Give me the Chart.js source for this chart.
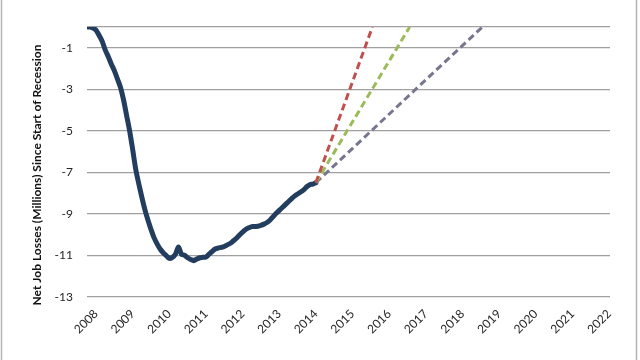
<!DOCTYPE html>
<html>
<head>
<meta charset="utf-8">
<script src="https://cdn.jsdelivr.net/npm/chart.js@4/dist/chart.umd.min.js"></script>
<style>
  html, body { margin: 0; padding: 0; background: #ffffff; }
  #wrap { width: 640px; height: 360px; position: relative; }
</style>
</head>
<body>
<div id="wrap"><canvas id="c" width="640" height="360"></canvas></div>
<script>
// ---- Data (months counted from Jan 2008 = 0) ----
const months = [-3,-2,-1,0,1,2,3,4,5,6,7,8,9,10,11,12,13,14,15,16,17,18,19,20,21,22,23,24,25,26,27,28,29,30,31,32,33,34,35,36,37,38,39,40,41,42,43,44,45,46,47,48,49,50,51,52,53,54,55,56,57,58,59,60,61,62,63,64,65,66,67,68,69,70,71,72];
const jobLosses = [0,0,-0.05,-0.15,-0.4,-0.68,-1.1,-1.42,-1.78,-2.1,-2.5,-2.9,-3.5,-4.25,-5.0,-5.9,-6.85,-7.55,-8.2,-8.8,-9.3,-9.75,-10.15,-10.45,-10.7,-10.88,-11.02,-11.15,-11.1,-10.95,-10.6,-10.95,-11.0,-11.12,-11.2,-11.26,-11.18,-11.12,-11.1,-11.08,-10.95,-10.82,-10.7,-10.65,-10.62,-10.58,-10.5,-10.42,-10.3,-10.18,-10.02,-9.88,-9.76,-9.68,-9.62,-9.62,-9.6,-9.56,-9.5,-9.42,-9.3,-9.14,-8.98,-8.84,-8.7,-8.56,-8.42,-8.28,-8.15,-8.05,-7.95,-7.85,-7.7,-7.6,-7.57,-7.5];

// projections: start month / value, end month / value
const projStartMonth = 72;
const projStartValue = -7.5;
const projEndMonths = [90.5, 102.7, 126.5];
const projEndValue = 0;
const projColors = ['#c0504d', '#9bbb59', '#76768f'];

const yearTicks = [2008,2009,2010,2011,2012,2013,2014,2015,2016,2017,2018,2019,2020,2021,2022];
const yTicks = [0,-1,-3,-5,-7,-9,-11,-13];
const yTitle = 'Net Job Losses (Millions) Since Start of Recession';

const toYear = m => 2008 + m / 12;

const mainData = months.map((m, i) => ({ x: toYear(m), y: jobLosses[i] }));
const projSets = projEndMonths.map((em, i) => ({
  data: [{ x: toYear(projStartMonth), y: projStartValue }, { x: toYear(em), y: projEndValue }],
  borderColor: projColors[i],
  borderWidth: 3,
  borderDash: [7, 4],
  pointRadius: 0,
  fill: false,
  tension: 0
}));

const FONT = 'Lato, "Open Sans", "Liberation Sans", sans-serif';

const framePlugin = {
  id: 'frame',
  afterDraw(chart) {
    const ctx = chart.ctx;
    ctx.save();
    ctx.strokeStyle = '#b4b4b4';
    ctx.lineWidth = 1.5;
    ctx.beginPath();
    ctx.moveTo(1.5, 0); ctx.lineTo(1.5, 360);
    ctx.moveTo(636.5, 0); ctx.lineTo(636.5, 360);
    ctx.stroke();
    // y-axis title
    ctx.translate(37, 175);
    ctx.rotate(-Math.PI / 2);
    ctx.fillStyle = '#111111';
    ctx.font = 'bold 12px ' + FONT;
    ctx.textAlign = 'center';
    ctx.textBaseline = 'middle';
    ctx.fillText(yTitle, 0, 0);
    ctx.restore();
  }
};

new Chart(document.getElementById('c'), {
  type: 'line',
  data: {
    datasets: [
      ...projSets,
      {
        data: mainData,
        borderColor: '#233d5e',
        borderWidth: 5,
        pointRadius: 0,
        fill: false,
        tension: 0.3,
        borderCapStyle: 'round',
        borderJoinStyle: 'round'
      }
    ]
  },
  options: {
    responsive: false,
    animation: false,
    devicePixelRatio: 1,
    layout: { padding: { left: 30, right: 30, top: 27, bottom: 0 } },
    plugins: { legend: { display: false }, tooltip: { enabled: false }, title: { display: false } },
    scales: {
      x: {
        type: 'linear',
        min: toYear(-2.95),
        max: toYear(168.3),
        afterBuildTicks: s => { s.ticks = yearTicks.map(v => ({ value: v })); },
        afterFit: s => { s.height = 63.25; },
        grid: { display: false, drawTicks: false },
        border: { display: false },
        ticks: {
          autoSkip: false,
          maxRotation: 45,
          minRotation: 45,
          padding: 10,
          color: '#262626',
          font: { family: FONT, size: 12 },
          callback: v => String(v)
        }
      },
      y: {
        min: -13,
        max: 0,
        afterBuildTicks: s => { s.ticks = yTicks.map(v => ({ value: v })); },
        afterFit: s => { s.width = 57; },
        grid: { color: '#a0a0a0', lineWidth: 1.3, drawTicks: false },
        border: { display: false },
        ticks: {
          padding: 14,
          color: '#262626',
          font: { family: FONT, size: 12 },
          callback: v => (v === 0 ? '' : String(v))
        }
      }
    }
  },
  plugins: [framePlugin]
});
</script>
</body>
</html>
